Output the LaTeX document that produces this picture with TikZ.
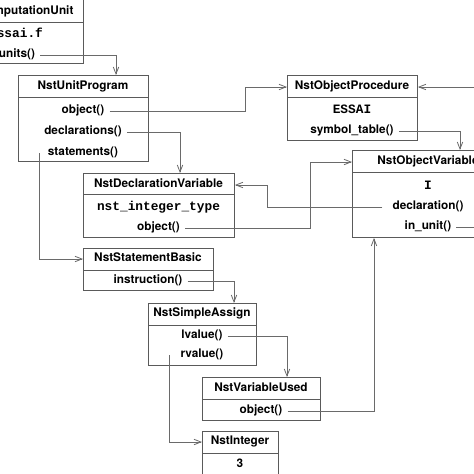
\documentclass[tikz,border=0pt]{standalone}
\usepackage{fontspec}
\setsansfont{TeX Gyre Heros}
\setmonofont{Liberation Mono}
\usetikzlibrary{arrows.meta}
\definecolor{boxgray}{HTML}{5A5A5A}
\definecolor{linegray}{HTML}{6A6A6A}
\tikzset{
 classbox/.style={draw=boxgray, line width=0.9pt, inner sep=0pt, anchor=north west},
 sepline/.style={draw=boxgray, line width=0.9pt},
 hdr/.style={font=\sffamily\bfseries\fontsize{11.8}{12}\selectfont, inner sep=0pt, text height=8.3pt, text depth=2.4pt},
 item/.style={font=\sffamily\bfseries\fontsize{11.8}{12}\selectfont, inner ysep=0pt, inner xsep=5pt, text height=8.3pt, text depth=2.4pt},
 ttitem/.style={font=\ttfamily\bfseries\fontsize{12.8}{13}\selectfont, inner sep=0pt, text height=6.5pt, text depth=0.5pt},
 conn/.style={draw=linegray, line width=0.8pt, -{Straight Barb[length=7pt,width=5.5pt]}},
}
\begin{document}
\begin{tikzpicture}[x=1pt,y=-1pt]
\useasboundingbox (0,0) rectangle (474,474);
\clip (0,0) rectangle (474,474);
% boxes
\node[classbox, minimum width=132pt, minimum height=93pt] (cu) at (-49,-30) {};
\node[classbox, minimum width=130pt, minimum height=86pt] (up) at (18,75) {};
\node[classbox, minimum width=130pt, minimum height=65pt] (op) at (287,75) {};
\node[classbox, minimum width=152pt, minimum height=87pt] (ov) at (352,150) {};
\node[classbox, minimum width=151pt, minimum height=64pt] (dv) at (83,173) {};
\node[classbox, minimum width=130pt, minimum height=42pt] (sb) at (83,248) {};
\node[classbox, minimum width=108pt, minimum height=62pt] (sa) at (148,303) {};
\node[classbox, minimum width=118pt, minimum height=43pt] (vu) at (202,377) {};
\node[classbox, minimum width=76pt, minimum height=60pt] (ni) at (202,431) {};
% separators
\draw[sepline] (cu.west |- 0,22) -- (cu.east |- 0,22);
\draw[sepline] (up.west |- 0,97) -- (up.east |- 0,97);
\draw[sepline] (op.west |- 0,97) -- (op.east |- 0,97);
\draw[sepline] (ov.west |- 0,172) -- (ov.east |- 0,172);
\draw[sepline] (dv.west |- 0,194) -- (dv.east |- 0,194);
\draw[sepline] (sb.west |- 0,270) -- (sb.east |- 0,270);
\draw[sepline] (sa.west |- 0,325) -- (sa.east |- 0,325);
\draw[sepline] (vu.west |- 0,399) -- (vu.east |- 0,399);
\draw[sepline] (ni.west |- 0,453) -- (ni.east |- 0,453);
% texts
\node[hdr] (cuH) at (16,12) {NstComputationUnit};
\node[ttitem] (cuF) at (16,34) {essai.f};
\node[item] (cuU) at (17,55) {units()};
\node[hdr] (upH) at (83,87) {NstUnitProgram};
\node[item] (upObj) at (83,111) {object()};
\node[item] (upDecl) at (83,132) {declarations()};
\node[item] (upStmt) at (83,153) {statements()};
\node[hdr] (opH) at (352,87) {NstObjectProcedure};
\node[ttitem] (opE) at (352,110) {ESSAI};
\node[item] (opSym) at (352,131) {symbol\_table()};
\node[hdr] (ovH) at (428,162) {NstObjectVariable};
\node[ttitem] (ovI) at (428,186) {I};
\node[item] (ovDecl) at (428,207) {declaration()};
\node[item] (ovIn) at (428,227) {in\_unit()};
\node[hdr] (dvH) at (158.5,185) {NstDeclarationVariable};
\node[ttitem] (dvT) at (158.5,207) {nst\_integer\_type};
\node[item] (dvObj) at (158.5,228) {object()};
\node[hdr] (sbH) at (148,259) {NstStatementBasic};
\node[item] (sbI) at (148,281) {instruction()};
\node[hdr] (saH) at (202,314) {NstSimpleAssign};
\node[item] (saL) at (202,336) {lvalue()};
\node[item] (saR) at (202,355) {rvalue()};
\node[hdr] (vuH) at (261,389) {NstVariableUsed};
\node[item] (vuObj) at (261,411) {object()};
\node[hdr] (niH) at (240,442) {NstInteger};
\node[item] (niV) at (240,465) {3};
% connectors
\draw[conn] (cuU.east) -| (116,0 |- up.north);
\draw[conn] (upObj.east) -| (245,0 |- opH) -- (op.west |- opH);
\draw[conn] (upDecl.east) -| (180,0 |- dv.north);
\draw[conn] ([xshift=-3pt]upStmt.west) |- (sb.west |- sbH);
\draw[conn] (opSym.east) -| (460,0 |- ov.north);
\draw[conn] (ovIn.east) -| (490,0 |- opH) -- (op.east |- opH);
\draw[conn] ([xshift=-5pt]ovDecl.west) -| (267,0 |- dvH) -- (dv.east |- dvH);
\draw[conn] (dvObj.east) -| (310,0 |- ovH) -- (ov.west |- ovH);
\draw[conn] (sbI.east) -| (234,0 |- sa.north);
\draw[conn] (saL.east) -| (287,0 |- vu.north);
\draw[conn] ([xshift=-6pt]saR.west) |- (ni.west |- niH);
\draw[conn] (vuObj.east) -| (374,0 |- ov.south);
\end{tikzpicture}
\end{document}
